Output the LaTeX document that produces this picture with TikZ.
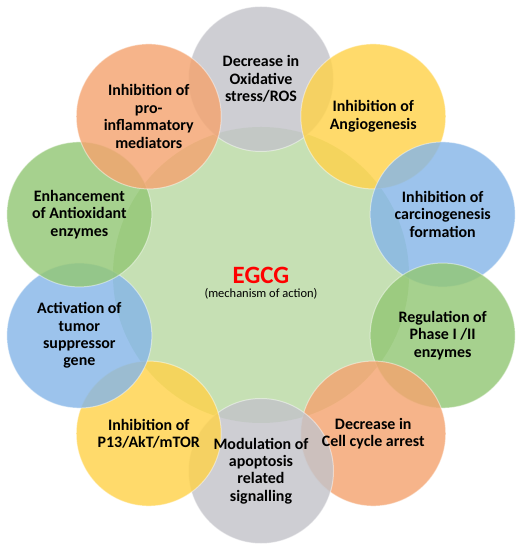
\documentclass[tikz,border=0pt]{standalone}
\usepackage{fontspec}
\setmainfont{Carlito}
\usetikzlibrary{calc,positioning}

\definecolor{ggray}{HTML}{C3C3C9}
\definecolor{gorange}{HTML}{F4A470}
\definecolor{gyellow}{HTML}{FFD24A}
\definecolor{gblue}{HTML}{86B6E8}
\definecolor{ggreen}{HTML}{93C775}
\definecolor{gbig}{HTML}{C6E0B4}

\begin{document}
\begin{tikzpicture}[x=1bp,y=1bp,
    bubble/.style={circle,minimum size=145bp,inner sep=0pt,fill opacity=0.82,
      draw=white,draw opacity=0.45,line width=1bp},
    bubbletext/.style={align=center,font=\fontsize{16}{17.5}\selectfont\bfseries}]
            \useasboundingbox (0,0) rectangle (518,550);
            \coordinate (O) at (261,275);

            \node[circle,minimum size=296bp,inner sep=0pt,fill=gbig] (core) at (O) {};

            \foreach \ang/\col [count=\i] in {90/ggray,54/gyellow,18/gblue,-18/ggreen,
                -54/gorange,-90/ggray,-126/gyellow,-162/gblue,162/ggreen,126/gorange}
                \node[bubble,fill=\col] (b\i) at ($(O)+({191*cos(\ang)},{196*sin(\ang)})$) {};

            \foreach \txt [count=\i] in {
                {Decrease in\\Oxidative\\stress/ROS},
                {Inhibition of\\Angiogenesis},
                {Inhibition of\\carcinogenesis\\formation},
                {Regulation of\\Phase I /II\\enzymes},
                {Decrease in\\Cell cycle arrest},
                {Modulation of\\apoptosis\\related\\signalling},
                {Inhibition of\\P13/AkT/mTOR},
                {Activation of\\tumor\\suppressor\\gene},
                {Enhancement\\of Antioxidant\\enzymes},
                {Inhibition of\\pro-\\inflammatory\\mediators}}
                \node[bubbletext] (t\i) at (b\i) {\txt};

            \node[text=red,font=\fontsize{25}{27}\selectfont\bfseries] (egcg) at (261,275) {EGCG};
            \node[font=\fontsize{12.5}{14}\selectfont,below=-2pt of egcg] (moa) {(mechanism of action)};
        \end{tikzpicture}
\end{document}
